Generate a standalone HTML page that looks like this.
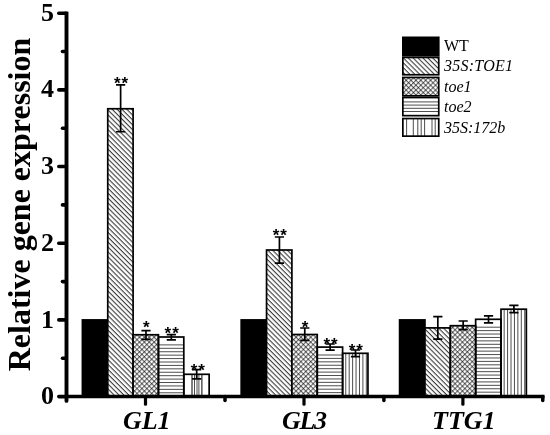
<!DOCTYPE html>
<html><head><meta charset="utf-8"><title>Relative gene expression</title>
<style>
html,body{margin:0;padding:0;background:#fff;}
svg{display:block;}
text{font-family:"Liberation Serif","Times New Roman",serif;fill:#000;}
.tk{font-weight:bold;font-size:26px;text-anchor:end;}
.xl{font-weight:bold;font-style:italic;font-size:26px;text-anchor:middle;}
.yl{font-weight:bold;font-size:32px;text-anchor:middle;}
.lg{font-size:16px;}
.lgi{font-size:16px;font-style:italic;}
.st{font-family:"Liberation Sans",Arial,sans-serif;font-size:17px;font-weight:bold;letter-spacing:1px;text-anchor:middle;}
</style></head><body>
<svg width="550" height="435" viewBox="0 0 550 435">
<defs>
<pattern id="pd" width="3.46" height="3.46" patternUnits="userSpaceOnUse" patternTransform="rotate(45)">
<rect width="3.46" height="3.46" fill="#fff"/><line x1="0" y1="1.5" x2="3.46" y2="1.5" stroke="#000" stroke-width="0.85"/></pattern>
<pattern id="px" width="3.46" height="3.46" patternUnits="userSpaceOnUse" patternTransform="rotate(45)">
<rect width="3.46" height="3.46" fill="#fff"/><line x1="0" y1="1.5" x2="3.46" y2="1.5" stroke="#000" stroke-width="0.65"/><line x1="1.5" y1="0" x2="1.5" y2="3.46" stroke="#000" stroke-width="0.65"/></pattern>
<pattern id="ph" width="3.42" height="3.42" patternUnits="userSpaceOnUse">
<rect width="3.42" height="3.42" fill="#fff"/><line x1="0" y1="1.7" x2="3.42" y2="1.7" stroke="#000" stroke-width="0.7"/></pattern>
<pattern id="pv" width="3.43" height="3.43" patternUnits="userSpaceOnUse">
<rect width="3.43" height="3.43" fill="#fff"/><line x1="1.7" y1="0" x2="1.7" y2="3.43" stroke="#000" stroke-width="0.7"/></pattern>
</defs>
<rect width="550" height="435" fill="#fff"/>

<rect x="81.55" y="319.07" width="27.05" height="77.53" fill="#000"/>
<rect x="107.75" y="108.75" width="25.35" height="287.85" fill="url(#pd)" stroke="#000" stroke-width="1.7"/>
<rect x="133.10" y="334.75" width="25.35" height="61.85" fill="url(#px)" stroke="#000" stroke-width="1.7"/>
<path d="M158.45 344.90h25.35M158.45 348.32h25.35M158.45 351.74h25.35M158.45 355.16h25.35M158.45 358.58h25.35M158.45 362.00h25.35M158.45 365.42h25.35M158.45 368.84h25.35M158.45 372.26h25.35M158.45 375.68h25.35M158.45 379.10h25.35M158.45 382.52h25.35M158.45 385.94h25.35M158.45 389.36h25.35M158.45 392.78h25.35" stroke="#000" stroke-width="0.7" fill="none"/>
<rect x="158.45" y="337.00" width="25.35" height="59.60" fill="none" stroke="#000" stroke-width="1.7"/>
<path d="M192 374.30V396.60M201.9 374.30V396.60" stroke="#000" stroke-width="1" fill="none"/>
<path d="M194.50 374.30V396.60M197.00 374.30V396.60M198.90 374.30V396.60" stroke="#000" stroke-width="0.7" fill="none"/>
<rect x="183.80" y="374.30" width="25.35" height="22.30" fill="none" stroke="#000" stroke-width="1.7"/>
<rect x="240.35" y="319.07" width="27.05" height="77.53" fill="#000"/>
<rect x="266.55" y="250.00" width="25.35" height="146.60" fill="url(#pd)" stroke="#000" stroke-width="1.7"/>
<rect x="291.90" y="334.50" width="25.35" height="62.10" fill="url(#px)" stroke="#000" stroke-width="1.7"/>
<path d="M317.25 355.00h25.35M317.25 358.42h25.35M317.25 361.84h25.35M317.25 365.26h25.35M317.25 368.68h25.35M317.25 372.10h25.35M317.25 375.52h25.35M317.25 378.94h25.35M317.25 382.36h25.35M317.25 385.78h25.35M317.25 389.20h25.35M317.25 392.62h25.35" stroke="#000" stroke-width="0.7" fill="none"/>
<rect x="317.25" y="347.10" width="25.35" height="49.50" fill="none" stroke="#000" stroke-width="1.7"/>
<path d="M345.75 353.30V396.60M349.18 353.30V396.60M352.61 353.30V396.60M356.04 353.30V396.60M359.47 353.30V396.60M362.90 353.30V396.60M366.33 353.30V396.60" stroke="#000" stroke-width="0.7" fill="none"/>
<rect x="342.60" y="353.30" width="25.35" height="43.30" fill="none" stroke="#000" stroke-width="1.7"/>
<rect x="398.75" y="319.07" width="27.05" height="77.53" fill="#000"/>
<rect x="424.95" y="327.90" width="25.35" height="68.70" fill="url(#pd)" stroke="#000" stroke-width="1.7"/>
<rect x="450.30" y="325.70" width="25.35" height="70.90" fill="url(#px)" stroke="#000" stroke-width="1.7"/>
<path d="M475.65 327.20h25.35M475.65 330.62h25.35M475.65 334.04h25.35M475.65 337.46h25.35M475.65 340.88h25.35M475.65 344.30h25.35M475.65 347.72h25.35M475.65 351.14h25.35M475.65 354.56h25.35M475.65 357.98h25.35M475.65 361.40h25.35M475.65 364.82h25.35M475.65 368.24h25.35M475.65 371.66h25.35M475.65 375.08h25.35M475.65 378.50h25.35M475.65 381.92h25.35M475.65 385.34h25.35M475.65 388.76h25.35M475.65 392.18h25.35" stroke="#000" stroke-width="0.7" fill="none"/>
<rect x="475.65" y="319.30" width="25.35" height="77.30" fill="none" stroke="#000" stroke-width="1.7"/>
<path d="M504.15 309.20V396.60M507.58 309.20V396.60M511.01 309.20V396.60M514.44 309.20V396.60M517.87 309.20V396.60M521.30 309.20V396.60M524.73 309.20V396.60" stroke="#000" stroke-width="0.7" fill="none"/>
<rect x="501.00" y="309.20" width="25.35" height="87.40" fill="none" stroke="#000" stroke-width="1.7"/>
<path d="M120.62 84.90V131.75M116.03 84.90H125.22M116.03 131.75H125.22" stroke="#000" stroke-width="1.7" fill="none"/>
<text class="st" x="121.53" y="89.20">**</text>
<path d="M145.98 330.60V339.30M141.38 330.60H150.58M141.38 339.30H150.58" stroke="#000" stroke-width="1.7" fill="none"/>
<text class="st" x="146.88" y="332.90">*</text>
<path d="M171.33 334.70V339.80M166.73 334.70H175.93M166.73 339.80H175.93" stroke="#000" stroke-width="1.7" fill="none"/>
<text class="st" x="172.23" y="339.10">**</text>
<path d="M196.68 369.70V378.90M192.08 369.70H201.28M192.08 378.90H201.28" stroke="#000" stroke-width="1.7" fill="none"/>
<text class="st" x="198.38" y="375.90">**</text>
<path d="M279.43 237.00V263.20M274.82 237.00H284.03M274.82 263.20H284.03" stroke="#000" stroke-width="1.7" fill="none"/>
<text class="st" x="280.32" y="241.20">**</text>
<path d="M304.77 328.00V340.40M300.17 328.00H309.38M300.17 340.40H309.38" stroke="#000" stroke-width="1.7" fill="none"/>
<text class="st" x="305.67" y="333.30">*</text>
<path d="M330.12 344.00V350.20M325.52 344.00H334.73M325.52 350.20H334.73" stroke="#000" stroke-width="1.7" fill="none"/>
<text class="st" x="331.02" y="349.60">**</text>
<path d="M355.48 350.00V356.70M350.88 350.00H360.08M350.88 356.70H360.08" stroke="#000" stroke-width="1.7" fill="none"/>
<text class="st" x="356.38" y="356.00">**</text>
<path d="M437.83 316.70V339.20M433.23 316.70H442.43M433.23 339.20H442.43" stroke="#000" stroke-width="1.7" fill="none"/>
<path d="M463.18 321.00V329.70M458.57 321.00H467.78M458.57 329.70H467.78" stroke="#000" stroke-width="1.7" fill="none"/>
<path d="M488.53 315.80V322.90M483.93 315.80H493.13M483.93 322.90H493.13" stroke="#000" stroke-width="1.7" fill="none"/>
<path d="M513.88 305.40V312.70M509.27 305.40H518.48M509.27 312.70H518.48" stroke="#000" stroke-width="1.7" fill="none"/>
<path d="M66.5 11.60V400.90" stroke="#000" stroke-width="3.9" stroke-linecap="round" fill="none"/>
<rect x="60" y="0" width="12" height="11.60" fill="#fff"/>
<path d="M64.7 396.60H544.5" stroke="#000" stroke-width="3.5" fill="none"/>
<path d="M58.8 396.60H66" stroke="#000" stroke-width="3.6" stroke-linecap="round" fill="none"/>
<text class="tk" x="54" y="404.20">0</text>
<path d="M58.8 319.92H66" stroke="#000" stroke-width="3.6" stroke-linecap="round" fill="none"/>
<text class="tk" x="54" y="327.52">1</text>
<path d="M58.8 243.24H66" stroke="#000" stroke-width="3.6" stroke-linecap="round" fill="none"/>
<text class="tk" x="54" y="250.84">2</text>
<path d="M58.8 166.56H66" stroke="#000" stroke-width="3.6" stroke-linecap="round" fill="none"/>
<text class="tk" x="54" y="174.16">3</text>
<path d="M58.8 89.88H66" stroke="#000" stroke-width="3.6" stroke-linecap="round" fill="none"/>
<text class="tk" x="54" y="97.48">4</text>
<path d="M58.8 13.20H66" stroke="#000" stroke-width="3.6" stroke-linecap="round" fill="none"/>
<text class="tk" x="54" y="20.80">5</text>
<path d="M62.5 358.26H66" stroke="#000" stroke-width="3.6" stroke-linecap="round" fill="none"/>
<path d="M62.5 281.58H66" stroke="#000" stroke-width="3.6" stroke-linecap="round" fill="none"/>
<path d="M62.5 204.90H66" stroke="#000" stroke-width="3.6" stroke-linecap="round" fill="none"/>
<path d="M62.5 128.22H66" stroke="#000" stroke-width="3.6" stroke-linecap="round" fill="none"/>
<path d="M62.5 51.54H66" stroke="#000" stroke-width="3.6" stroke-linecap="round" fill="none"/>
<path d="M145.50 396.60V404.20" stroke="#000" stroke-width="3.2" stroke-linecap="round" fill="none"/>
<text class="xl" x="146.80" y="429.1">GL1</text>
<path d="M304.00 396.60V404.20" stroke="#000" stroke-width="3.2" stroke-linecap="round" fill="none"/>
<text class="xl" x="303.80" y="429.1" style="letter-spacing:-1.3px">GL3</text>
<path d="M462.90 396.60V404.20" stroke="#000" stroke-width="3.2" stroke-linecap="round" fill="none"/>
<text class="xl" x="463.80" y="429.1">TTG1</text>
<path d="M225.00 396.60V400.60" stroke="#000" stroke-width="3.5" stroke-linecap="round" fill="none"/>
<path d="M383.90 396.60V400.60" stroke="#000" stroke-width="3.5" stroke-linecap="round" fill="none"/>
<path d="M542.75 396.60V400.60" stroke="#000" stroke-width="3.5" stroke-linecap="round" fill="none"/>
<text class="yl" transform="translate(29.8 204.5) rotate(-90)">Relative gene expression</text>
<rect x="402.0" y="36.5" width="37.60" height="20.10" fill="#000"/>
<text class="lg" x="444" y="51.30">WT</text>
<rect x="402.85" y="57.45" width="35.90" height="17.30" fill="url(#pd)" stroke="#000" stroke-width="1.7"/>
<text class="lgi" x="444" y="71.30" style="letter-spacing:0.25px">35S:TOE1</text>
<rect x="402.85" y="77.45" width="35.90" height="18.40" fill="url(#px)" stroke="#000" stroke-width="1.7"/>
<text class="lgi" x="444" y="92.20">toe1</text>
<path d="M402.85 101.90h35.90M402.85 105.10h35.90M402.85 108.30h35.90M402.85 111.50h35.90" stroke="#000" stroke-width="0.7" fill="none"/>
<rect x="402.85" y="97.55" width="35.90" height="18.10" fill="none" stroke="#000" stroke-width="1.7"/>
<text class="lgi" x="444" y="112.30">toe2</text>
<path d="M406.60 118.55v17.60M413.30 118.55v17.60M417.80 118.55v17.60M421.20 118.55v17.60M424.60 118.55v17.60M432.00 118.55v17.60M435.20 118.55v17.60" stroke="#000" stroke-width="0.7" fill="none"/>
<rect x="402.85" y="118.55" width="35.90" height="17.60" fill="none" stroke="#000" stroke-width="1.7"/>
<text class="lgi" x="444" y="132.70">35S:172b</text>
</svg></body></html>
